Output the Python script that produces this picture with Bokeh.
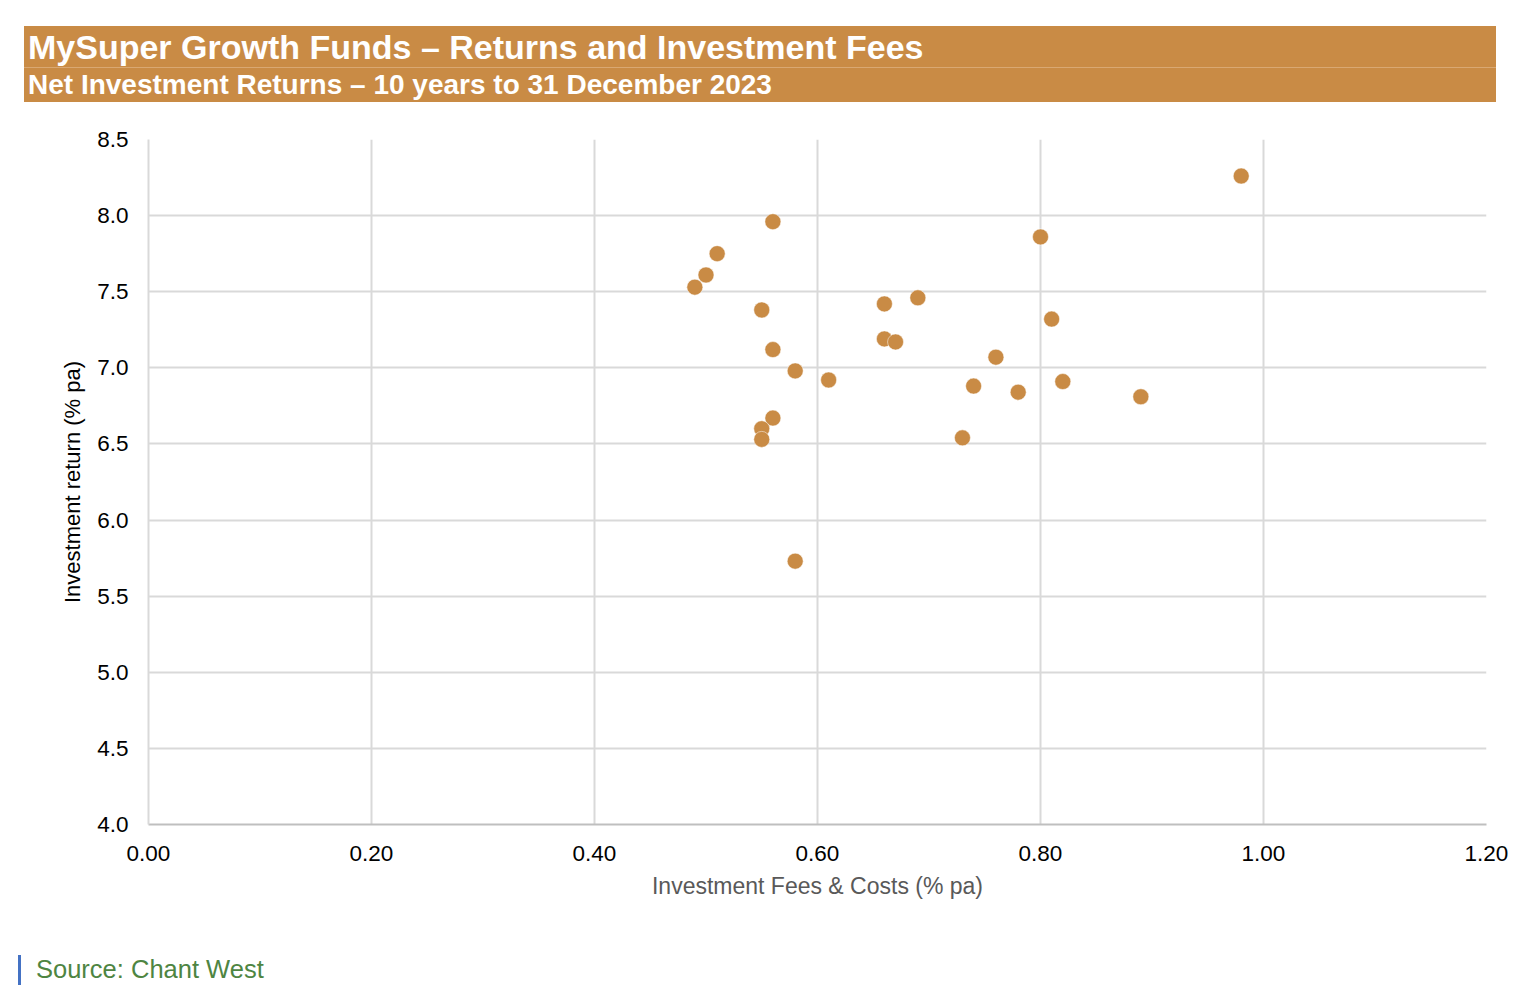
from bokeh.plotting import figure
from bokeh.layouts import column
from bokeh.models import ColumnDataSource, FixedTicker, NumeralTickFormatter, Range1d, Div
from bokeh.embed import file_html
from bokeh.resources import INLINE

# Fund fees and 10-year net returns (% pa)
fees = [0.98, 0.56, 0.80, 0.51, 0.50, 0.49, 0.55, 0.69, 0.66, 0.81,
        0.66, 0.67, 0.56, 0.76, 0.58, 0.61, 0.82, 0.74, 0.78, 0.89,
        0.56, 0.55, 0.55, 0.73, 0.58]
returns = [8.26, 7.96, 7.86, 7.75, 7.61, 7.53, 7.38, 7.46, 7.42, 7.32,
           7.19, 7.17, 7.12, 7.07, 6.98, 6.92, 6.91, 6.88, 6.84, 6.81,
           6.67, 6.60, 6.53, 6.54, 5.73]

x_ticks = [0.0, 0.2, 0.4, 0.6, 0.8, 1.0, 1.2]
y_ticks = [4.0, 4.5, 5.0, 5.5, 6.0, 6.5, 7.0, 7.5, 8.0, 8.5]

title_text = "MySuper Growth Funds \u2013 Returns and Investment Fees"
subtitle_text = "Net Investment Returns \u2013 10 years to 31 December 2023"
source_text = "Source: Chant West"

GOLD = "#C98B45"
FONT = "Liberation Sans"
W = 1528

# header band
head_html = f"""
<div style="position:relative; width:{W}px; height:102px;">
  <div style="position:absolute; left:24px; top:26px; width:1472px; height:76px;
              background:{GOLD}; font-family:'{FONT}'; font-weight:bold; color:white;">
    <div style="height:42px; line-height:42px; font-size:34px; padding-left:4px;
                border-bottom:1px solid #D9A872; white-space:nowrap;">{title_text}</div>
    <div style="height:33px; line-height:33px; font-size:28px; padding-left:4px;
                white-space:nowrap;">{subtitle_text}</div>
  </div>
</div>
"""
head = Div(text=head_html, width=W, height=102, margin=0)

# scatter chart
src = ColumnDataSource(data=dict(fee=fees, ret=returns))
p = figure(width=W, height=840, output_backend="svg", toolbar_location=None,
           x_range=Range1d(0, 1.2), y_range=Range1d(4.0, 8.5),
           min_border_left=148, min_border_right=42,
           min_border_top=37, min_border_bottom=118)
p.outline_line_color = None
p.background_fill_color = "white"
p.border_fill_color = "white"

p.scatter("fee", "ret", source=src, size=16, color=GOLD, line_color="white",
          line_width=0.5)

p.xaxis.ticker = FixedTicker(ticks=x_ticks)
p.yaxis.ticker = FixedTicker(ticks=y_ticks)
p.xaxis.formatter = NumeralTickFormatter(format="0.00")
p.yaxis.formatter = NumeralTickFormatter(format="0.0")
for ax in (p.xaxis, p.yaxis):
    ax.major_tick_line_color = None
    ax.minor_tick_line_color = None
    ax.major_label_text_font = FONT
    ax.major_label_text_color = "#000000"
    ax.axis_label_text_font = FONT
    ax.axis_label_text_font_style = "normal"
p.xaxis.major_label_text_font_size = "22.5px"
p.yaxis.major_label_text_font_size = "22.5px"
p.xaxis.axis_line_color = "#bfbfbf"
p.yaxis.axis_line_color = "#d9d9d9"
p.xaxis.axis_line_width = 2
p.yaxis.axis_line_width = 2
p.xaxis.major_label_standoff = 15
p.yaxis.major_label_standoff = 14
p.xaxis.axis_label = "Investment Fees & Costs (% pa)"
p.xaxis.axis_label_text_color = "#595959"
p.xaxis.axis_label_text_font_size = "23px"
p.xaxis.axis_label_standoff = 9
p.yaxis.axis_label = "Investment return (% pa)"
p.yaxis.axis_label_text_color = "#000000"
p.yaxis.axis_label_text_font_size = "22px"
p.yaxis.axis_label_standoff = 9

p.xgrid.grid_line_color = "#d9d9d9"
p.ygrid.grid_line_color = "#d9d9d9"
p.xgrid.grid_line_width = 2
p.ygrid.grid_line_width = 2

# footer band with the source note
foot_html = f"""
<div style="position:relative; width:{W}px; height:58px;">
  <div style="position:absolute; left:18px; top:13px; width:3px; height:30px;
              background:#4472C4;"></div>
  <div style="position:absolute; left:36px; top:12px; font-family:'{FONT}';
              font-size:25.5px; line-height:30px; color:#4E8542; white-space:nowrap;">{source_text}</div>
</div>
"""
foot = Div(text=foot_html, width=W, height=58, margin=0)

layout = column(head, p, foot, spacing=0)
open("out.html", "w").write(file_html(layout, INLINE))
